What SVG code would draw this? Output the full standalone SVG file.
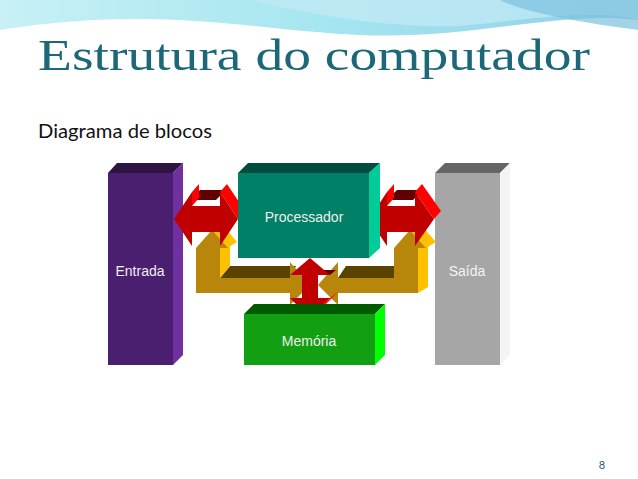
<svg xmlns="http://www.w3.org/2000/svg" width="638" height="479" viewBox="0 0 638 479">
<defs>
<linearGradient id="sky" x1="0" y1="0" x2="1" y2="0"><stop offset="0" stop-color="#c8f0f6"/><stop offset="0.5" stop-color="#a6e6f0"/><stop offset="1" stop-color="#8fd0ea"/></linearGradient>
<style>
.lbl{font-family:"Liberation Sans",Arial,sans-serif;font-size:14px;text-anchor:middle}
.redf{fill:#C00000}.redt{fill:#600000}.reds{fill:#FF0000}
.gf{fill:#B8860B}.gt{fill:#5A4300}.gs{fill:#FFC000}
</style>
</defs>
<rect width="638" height="479" fill="#fff"/>
<path d="M0,0 H638 V20 C560,10 470,40 360,35 C250,30 160,5 0,30 Z" fill="url(#sky)"/>
<path d="M250,0 C330,20 420,30 470,25 C540,18 600,8 638,20 V0 Z" fill="#bfe8f4" opacity="0.8"/>
<path d="M500,0 C530,15 600,25 638,30 V0 Z" fill="#7cc0e0" opacity="0.7"/>
<text x="38" y="70" font-family="Liberation Serif,serif" font-size="44" fill="#1D6878" textLength="552" lengthAdjust="spacingAndGlyphs">Estrutura do computador</text>
<text x="38" y="138" font-family="Lato,'Open Sans',sans-serif" font-size="19" fill="#111" textLength="174" lengthAdjust="spacingAndGlyphs">Diagrama de blocos</text>
<text x="602" y="469" font-family="Lato,sans-serif" font-size="11" fill="#2a5a8a" text-anchor="middle">8</text>

<g id="entrada">
<polygon points="108,173 117,163 183,163 173,173" fill="#2E1440"/>
<polygon points="173,173 183,163 183,355 173,365" fill="#7030A0"/>
<rect x="108" y="173" width="65" height="192" fill="#4B1F6F"/>
<text class="lbl" x="140" y="276" fill="#EEE">Entrada</text>
</g>
<g id="saida">
<polygon points="435,173 445,163 510,163 500,173" fill="#666"/>
<polygon points="500,173 510,163 510,355 500,365" fill="#f4f4f4"/>
<rect x="435" y="173" width="65" height="192" fill="#A6A6A6"/>
<text class="lbl" x="467" y="276" fill="#F4F4F4">Saída</text>
</g>

<g id="connectors">
<!-- gold L arrow left -->
<polygon points="220,278 230,266 296,266 290,278" class="gt"/>
<polygon points="212,230 222,224 237,242 227,248" class="gs"/>
<polygon points="220,248 230,242 230,266 220,278" class="gs"/>
<polygon points="196,248 212,230 228,248 220,248 220,278 290,278 290,262 310,285 290,305 290,293 196,293" class="gf"/>
<!-- gold L arrow right -->
<polygon points="338,278 346,266 404,266 394,278" class="gt"/>
<polygon points="410,230 420,224 436,242 426,248" class="gs"/>
<polygon points="418,248 428,242 428,287 418,293" class="gs"/>
<polygon points="394,248 410,230 426,248 418,248 418,293 338,293 338,305 318,285 338,262 338,278 394,278" class="gf"/>
<!-- red left double arrow -->
<polygon points="190,200 200,190 226,190 216,200" class="redt"/>
<polygon points="192,192 199,184 199,198 192,206" class="reds"/>
<polygon points="220,192 227,184 245,211 238,219" class="reds"/>
<polygon points="174,219 192,192 192,206 220,206 220,192 238,219 220,246 220,232 192,232 192,246" class="redf"/>
<!-- red right double arrow -->
<polygon points="387,200 397,190 423,190 413,200" class="redt"/>
<polygon points="387,192 394,184 394,198 387,206" class="reds"/>
<polygon points="415,192 422,184 441,211 434,219" class="reds"/>
<polygon points="369,219 387,192 387,206 415,206 415,192 434,219 415,246 415,232 387,232 387,246" class="redf"/>
<!-- red vertical double arrow -->
<polygon points="318,275 330,275 336,270 324,270" class="redt"/>
<polygon points="330,298 338,292 318,312 310,318" class="reds"/>
<polygon points="310,258 330,275 318,275 318,298 330,298 310,318 290,298 302,298 302,275 290,275" class="redf"/>
</g>

<g id="processador">
<polygon points="238,173 248,163 380,163 369,173" fill="#004D40"/>
<polygon points="369,173 380,163 380,248 369,258" fill="#00CC99"/>
<rect x="238" y="173" width="131" height="85" fill="#008066"/>
<text class="lbl" x="304" y="222" fill="#EEE">Processador</text>
</g>
<g id="memoria">
<polygon points="244,314 254,304 385,304 375,314" fill="#005A00"/>
<polygon points="375,314 385,304 385,355 375,365" fill="#00FF00"/>
<rect x="244" y="314" width="131" height="51" fill="#12A012"/>
<text class="lbl" x="309" y="346" fill="#EEE">Memória</text>
</g>
</svg>
